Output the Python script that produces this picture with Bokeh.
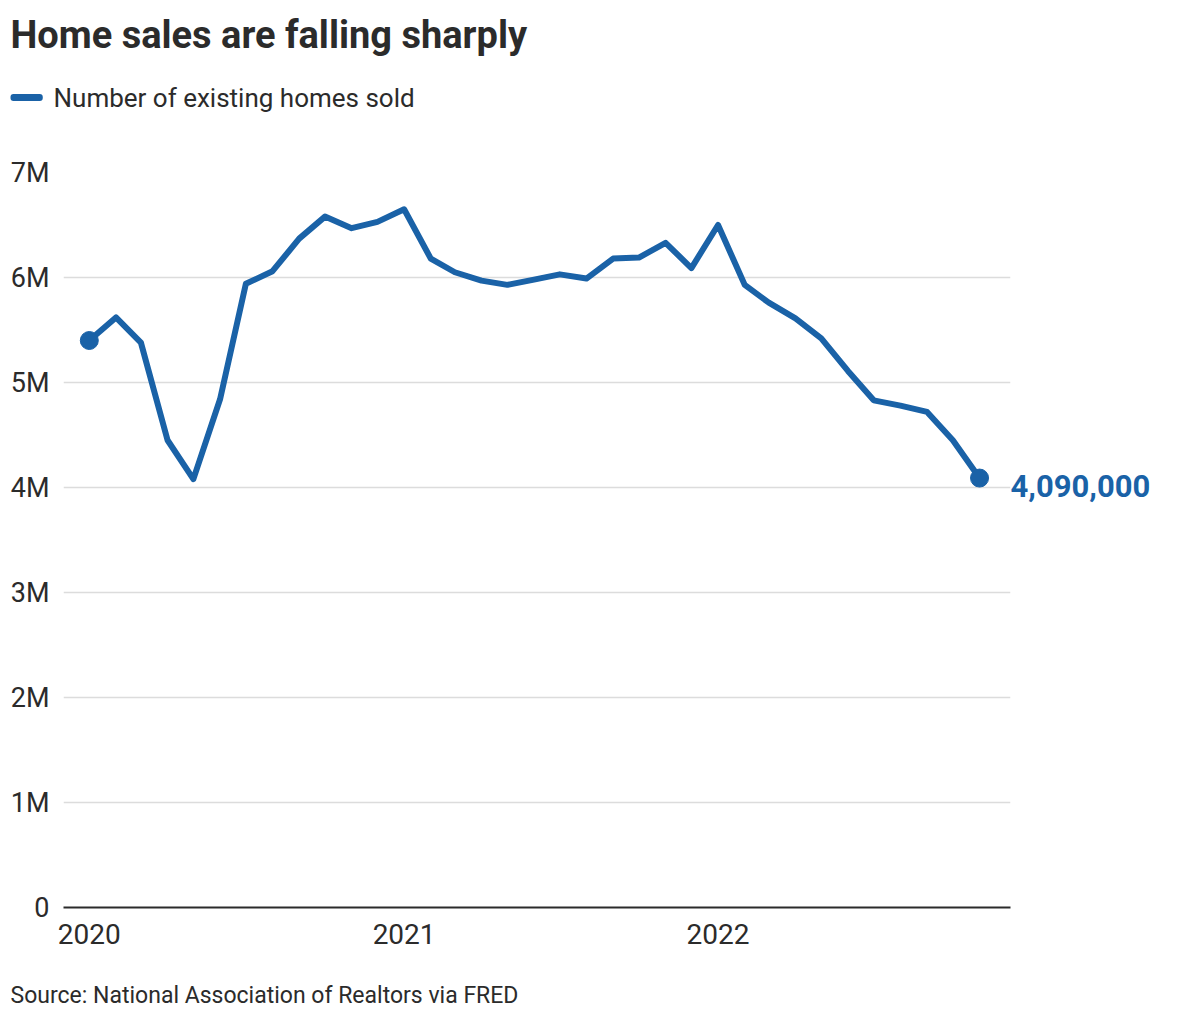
from datetime import datetime
from bokeh.plotting import figure
from bokeh.models import (Range1d, FixedTicker, CustomJSTickFormatter, Label,
                          DatetimeTickFormatter, ColumnDataSource)
from bokeh.embed import file_html
from bokeh.resources import INLINE

# ---- data ----
months = [
    "2020-01", "2020-02", "2020-03", "2020-04", "2020-05", "2020-06", "2020-07", "2020-08",
    "2020-09", "2020-10", "2020-11", "2020-12",
    "2021-01", "2021-02", "2021-03", "2021-04", "2021-05", "2021-06", "2021-07", "2021-08",
    "2021-09", "2021-10", "2021-11", "2021-12",
    "2022-01", "2022-02", "2022-03", "2022-04", "2022-05", "2022-06", "2022-07", "2022-08",
    "2022-09", "2022-10", "2022-11",
]
homes_sold = [
    5400000, 5620000, 5380000, 4450000, 4080000, 4840000, 5940000, 6060000,
    6370000, 6580000, 6470000, 6530000,
    6650000, 6180000, 6050000, 5970000, 5930000, 5980000, 6030000, 5990000,
    6180000, 6190000, 6330000, 6090000,
    6500000, 5930000, 5760000, 5610000, 5420000, 5110000, 4830000, 4780000,
    4720000, 4450000, 4090000,
]
y_ticks = [0, 1000000, 2000000, 3000000, 4000000, 5000000, 6000000, 7000000]
year_ticks = ["2020-01-01", "2021-01-01", "2022-01-01"]

title_text = "Home sales are falling sharply"
legend_text = "Number of existing homes sold"
source_text = "Source: National Association of Realtors via FRED"
end_label = "4,090,000"

BLUE = "#1a62a7"
DARK = "#2b2b2b"
FONT = "Roboto"

dates = [datetime.strptime(m + "-01", "%Y-%m-%d") for m in months]

def ms(d):
    return d.timestamp() * 1000.0

DAY = 86400000.0
x0 = ms(datetime(2020, 1, 1))
x_start = x0 - 30 * DAY
x_end = x0 + 1071 * DAY

W, H = 1176, 1016
FL, FR, FT, FB = 63, 1010, 172, 907  # frame in canvas px

p = figure(width=W, height=H, output_backend="svg", toolbar_location=None,
           x_axis_type="datetime",
           x_range=Range1d(x_start, x_end), y_range=Range1d(0, 7000000),
           min_border_left=FL, min_border_right=W - FR,
           min_border_top=FT, min_border_bottom=H - FB,
           background_fill_color="white", border_fill_color="white")
p.outline_line_color = None

# map canvas px to data for annotations outside the frame
def xd(px):
    return x_start + (px - FL) / (FR - FL) * (x_end - x_start)

def yd(py):
    return (FB - py) / (FB - FT) * 7000000

# axes
p.yaxis.ticker = FixedTicker(ticks=y_ticks)
p.yaxis.formatter = CustomJSTickFormatter(code="return tick == 0 ? '0' : (tick/1e6) + 'M';")
p.yaxis.axis_line_color = None
p.yaxis.major_tick_line_color = None
p.yaxis.minor_tick_line_color = None
p.yaxis.major_label_text_font = FONT
p.yaxis.major_label_text_font_size = "27px"
p.yaxis.major_label_text_color = DARK
p.yaxis.major_label_standoff = 8

p.xaxis.ticker = FixedTicker(ticks=[ms(datetime.strptime(t, "%Y-%m-%d")) for t in year_ticks])
p.xaxis.formatter = DatetimeTickFormatter(years="%Y", months="%Y", days="%Y")
p.xaxis.axis_line_color = DARK
p.xaxis.axis_line_width = 2
p.xaxis.major_tick_line_color = None
p.xaxis.minor_tick_line_color = None
p.xaxis.major_label_text_font = FONT
p.xaxis.major_label_text_font_size = "28px"
p.xaxis.major_label_text_color = DARK
p.xaxis.major_label_standoff = 10

p.xgrid.grid_line_color = None
p.ygrid.grid_line_color = "#dcdcdc"
p.ygrid.grid_line_width = 1.5

src = ColumnDataSource(dict(x=dates, y=homes_sold))
p.line("x", "y", source=src, line_color=BLUE, line_width=6, line_join="round", line_cap="round")
ends = ColumnDataSource(dict(x=[dates[0], dates[-1]], y=[homes_sold[0], homes_sold[-1]]))
p.scatter("x", "y", source=ends, size=18, fill_color=BLUE, line_color=BLUE)

# end value label (in side panel so it is not clipped by the frame)
p.add_layout(Label(x=ms(dates[-1]), y=homes_sold[-1], x_offset=31, y_offset=-8,
                   text=end_label, text_font=FONT, text_font_style="bold",
                   text_font_size="31px", text_color=BLUE, text_baseline="middle",
                   text_align="left"), "right")

# title
p.add_layout(Label(x=xd(10), y=yd(34), text=title_text, text_font=FONT,
                   text_font_style="bold", text_font_size="38px", text_color=DARK,
                   text_baseline="middle", text_align="left"), "above")
# legend swatch (a label box with blue background) and legend text
p.add_layout(Label(x=xd(10), y=yd(97), text=" ", text_font_size="1px",
                   text_baseline="middle", text_align="left",
                   background_fill_color=BLUE, background_fill_alpha=1.0,
                   border_radius=3,
                   padding=dict(left=16, right=16, top=3, bottom=3)), "above")
p.add_layout(Label(x=xd(53), y=yd(97), text=legend_text, text_font=FONT,
                   text_font_size="26px", text_color=DARK,
                   text_baseline="middle", text_align="left"), "above")
# source
p.add_layout(Label(x=xd(10), y=yd(995), text=source_text, text_font=FONT,
                   text_font_size="23px", text_color=DARK,
                   text_baseline="middle", text_align="left"), "below")

open("out.html", "w").write(file_html(p, INLINE))
